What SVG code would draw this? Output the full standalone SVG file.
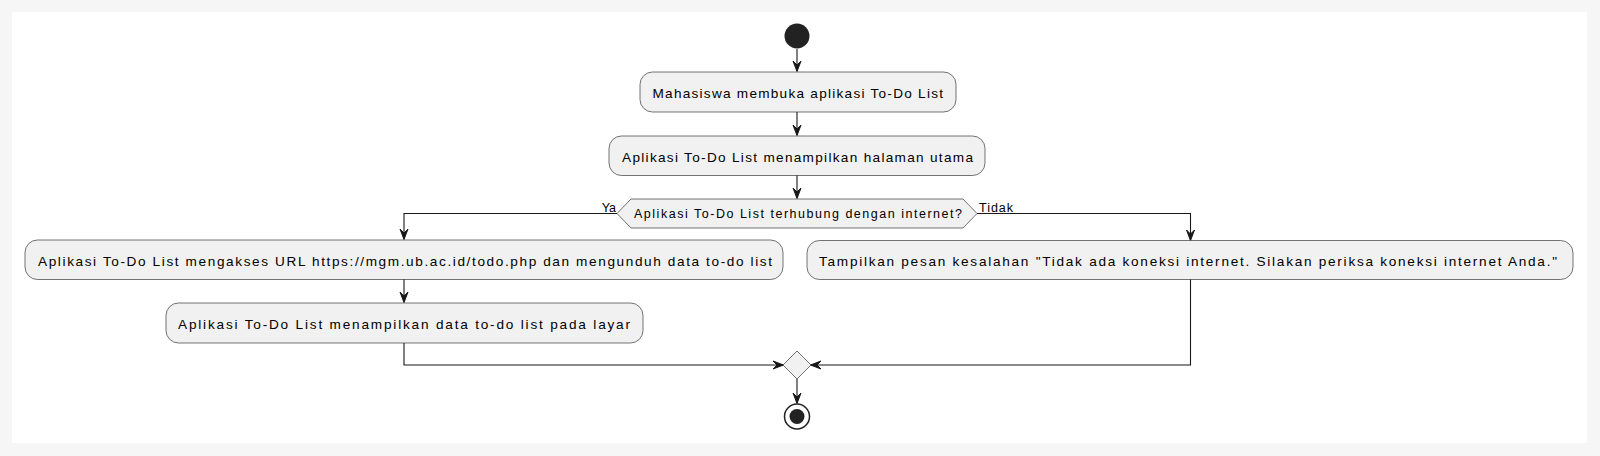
<svg xmlns="http://www.w3.org/2000/svg" width="1600" height="456" viewBox="0 0 1600 456">
<defs>
<style>
.bg{fill:#f6f6f6}
.panel{fill:#ffffff}
.act{fill:#f1f1f1;stroke:#181818;stroke-width:0.6}
.t{font-family:"Liberation Sans",Arial,sans-serif;font-size:13.6px;fill:#000000}
.lbl{font-family:"Liberation Sans",Arial,sans-serif;font-size:12.5px;fill:#000000}
.edge{fill:none;stroke:#181818;stroke-width:1.1}
.ah{fill:#181818;stroke:#181818;stroke-width:1}
</style>
</defs>
<rect class="bg" x="0" y="0" width="1600" height="456"/>
<rect class="panel" x="12" y="12" width="1575" height="431"/>

<g id="connectors">
<line class="edge" x1="797" y1="49" x2="797" y2="71"/>
<polygon class="ah" points="793,61 797,71.5 801,61 797,65"/>
<line class="edge" x1="797" y1="112" x2="797" y2="135"/>
<polygon class="ah" points="793,125 797,135.5 801,125 797,129"/>
<line class="edge" x1="797" y1="175" x2="797" y2="198"/>
<polygon class="ah" points="793,188 797,198.5 801,188 797,192"/>
<polyline class="edge" points="617,213.5 404,213.5 404,239"/>
<polygon class="ah" points="400,229 404,239.5 408,229 404,233"/>
<polyline class="edge" points="977,213.5 1190.5,213.5 1190.5,240"/>
<polygon class="ah" points="1186.5,230 1190.5,240.5 1194.5,230 1190.5,234"/>
<line class="edge" x1="404" y1="279" x2="404" y2="302"/>
<polygon class="ah" points="400,292 404,302.5 408,292 404,296"/>
<polyline class="edge" points="404,343 404,365 783,365"/>
<polygon class="ah" points="773,361 783.5,365 773,369 777,365"/>
<polyline class="edge" points="1190.5,279 1190.5,365 811,365"/>
<polygon class="ah" points="821,361 810.5,365 821,369 817,365"/>
<line class="edge" x1="797" y1="379" x2="797" y2="403"/>
<polygon class="ah" points="793,393 797,403.5 801,393 797,397"/>
<text class="lbl" x="616" y="211.5" text-anchor="end">Ya</text>
<text class="lbl" x="979" y="211.5" textLength="34" lengthAdjust="spacing">Tidak</text>
</g>

<g id="start">
<circle cx="797" cy="36" r="12.5" fill="#222222"/>
</g>

<g id="a1">
<rect class="act" x="640" y="72" width="316" height="40" rx="12.5" ry="12.5"/>
<text class="t" x="652.5" y="98" textLength="290.5" lengthAdjust="spacing">Mahasiswa membuka aplikasi To-Do List</text>
</g>

<g id="a2">
<rect class="act" x="609" y="136" width="376" height="39.5" rx="12.5" ry="12.5"/>
<text class="t" x="622" y="162" textLength="351" lengthAdjust="spacing">Aplikasi To-Do List menampilkan halaman utama</text>
</g>

<g id="decision">
<polygon class="act" points="631,199 963,199 977,213.5 963,228 631,228 617,213.5"/>
<text class="lbl" x="634" y="218" textLength="328" lengthAdjust="spacing">Aplikasi To-Do List terhubung dengan internet?</text>
</g>

<g id="a3">
<rect class="act" x="25" y="240" width="758" height="39.5" rx="12.5" ry="12.5"/>
<text class="t" x="38" y="266" textLength="734" lengthAdjust="spacing">Aplikasi To-Do List mengakses URL https://mgm.ub.ac.id/todo.php dan mengunduh data to-do list</text>
</g>

<g id="a4">
<rect class="act" x="166" y="303" width="477" height="40" rx="12.5" ry="12.5"/>
<text class="t" x="178" y="329" textLength="452" lengthAdjust="spacing">Aplikasi To-Do List menampilkan data to-do list pada layar</text>
</g>

<g id="a5">
<rect class="act" x="807" y="240.5" width="766" height="39" rx="12.5" ry="12.5"/>
<text class="t" x="819" y="266" textLength="738" lengthAdjust="spacing">Tampilkan pesan kesalahan "Tidak ada koneksi internet. Silakan periksa koneksi internet Anda."</text>
</g>

<g id="merge">
<polygon class="act" points="797,351 811,365 797,379 783,365"/>
</g>

<g id="end">
<circle cx="797" cy="416.5" r="12.5" fill="#ffffff" stroke="#222222" stroke-width="1.5"/>
<circle cx="797" cy="416.5" r="7.5" fill="#222222"/>
</g>
</svg>
